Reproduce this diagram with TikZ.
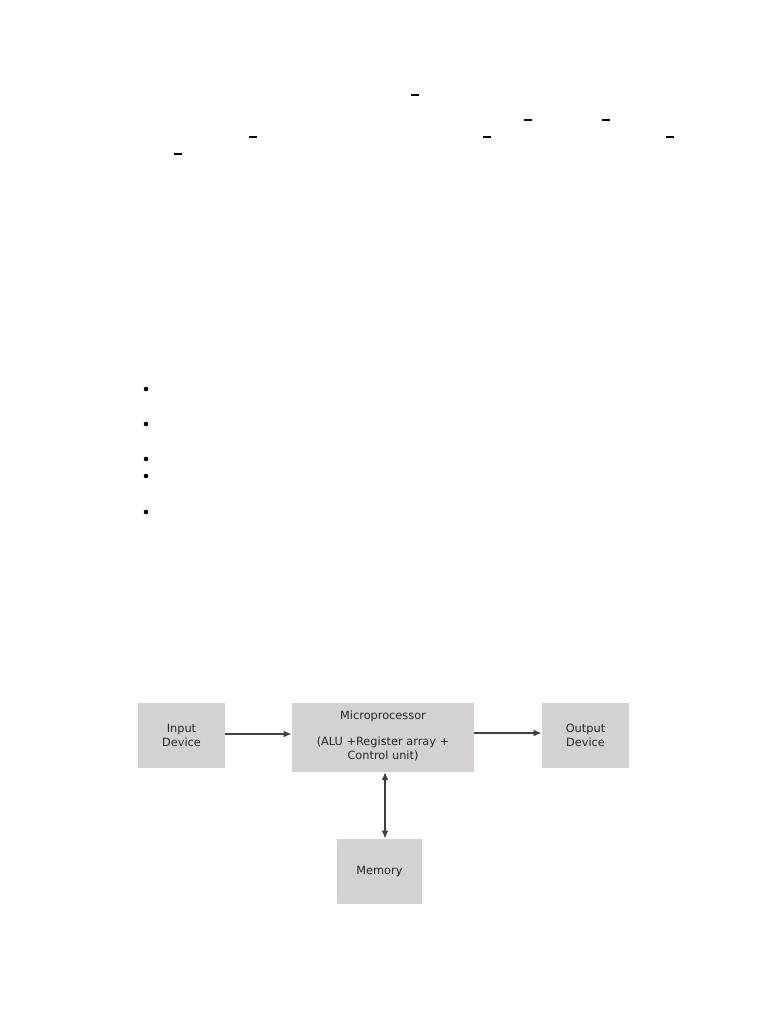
\documentclass[tikz,border=0pt]{standalone}
\usepackage{fontspec}
\setmainfont{DejaVu Sans}
\begin{document}
\begin{tikzpicture}[x=0.75pt,y=-0.75pt,
  blk/.style={fill=boxgray,draw=none,inner sep=0pt,align=center,font=\fontsize{8.5}{11}\selectfont,text=black!85},
  conn/.style={draw=black!75,line width=1.3pt,-{Latex[length=6pt,width=5pt]}},
  dashmark/.style={draw=black,line width=0.9pt},
  bul/.style={fill=black,draw=none}]
\usetikzlibrary{arrows.meta}
\definecolor{boxgray}{HTML}{D3D1D1}
\useasboundingbox (0,0) rectangle (768,1024);
\fill[white] (0,0) rectangle (768,1024);
% stray marks
\foreach \x/\y in {415/95,528/120,606/120,253/137,487/137,670/137,178/154}
  \draw[dashmark] (\x-4,\y) -- (\x+4,\y);
\foreach \y in {389,424,459,476,512}
  \fill[bul] (146,\y) circle (2.3);
% boxes
\node[blk,minimum width=65.25pt,minimum height=48.75pt] (in) at (181.5,735.5) {Input\\Device};
\node[blk,minimum width=136.5pt,minimum height=51.75pt] (mp) at (383,737.5) {};
\node[font=\fontsize{8.5}{11}\selectfont,text=black!85] (mpt) at (383,716) {Microprocessor};
\node[font=\fontsize{8.5}{11}\selectfont,text=black!85,align=center] (mpb) at (383,749) {(ALU +Register array +\\Control unit)};
\node[blk,minimum width=65.25pt,minimum height=48.75pt] (out) at (585.5,735.5) {Output\\Device};
\node[blk,minimum width=63.75pt,minimum height=48.75pt] (mem) at (379.5,871.5) {Memory};
% connectors
\draw[conn] (in.east |- 0,734) -- (mp.west |- 0,734);
\draw[conn] (mp.east |- 0,733) -- (out.west |- 0,733);
\draw[conn,{Latex[length=6pt,width=5pt]}-{Latex[length=6pt,width=5pt]}] (385,772) -- (mem.north -| 385,0);
\end{tikzpicture}
\end{document}
